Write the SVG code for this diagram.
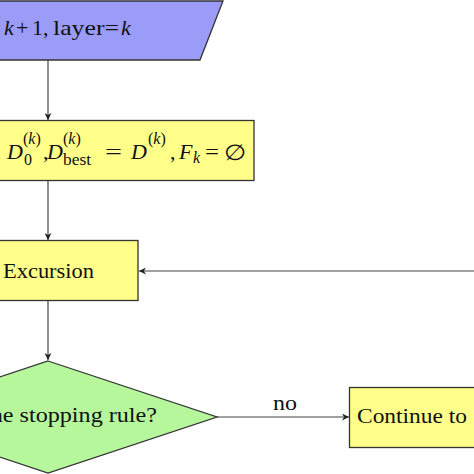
<svg xmlns="http://www.w3.org/2000/svg" width="474" height="474" viewBox="0 0 474 474">
<style>
.node{stroke:#333;stroke-width:1.3}
.blue{fill:#9a9cf8}
.yellow{fill:#ffff8a}
.green{fill:#b6f79c}
.t{font-family:"Liberation Serif","Times New Roman",serif;font-size:22px;fill:#111}
.i{font-style:italic}
.s{font-size:16px}
.edge{stroke:#444;stroke-width:1.2;fill:none;marker-end:url(#arr)}
</style>
<defs>
<marker id="arr" viewBox="0 0 10 10" refX="10" refY="5" markerWidth="7" markerHeight="7" markerUnits="userSpaceOnUse" orient="auto">
<path d="M0,0 L10,5 L0,10 L3,5 Z" fill="#222"/>
</marker>
</defs>
<rect width="474" height="474" fill="#fff"/>
<g id="connectors">
<line class="edge" x1="48" y1="60" x2="48" y2="120"/>
<line class="edge" x1="48" y1="181" x2="48" y2="240"/>
<line class="edge" x1="48" y1="300" x2="48" y2="360"/>
<line class="edge" x1="474" y1="271" x2="139" y2="271"/>
<line class="edge" x1="217" y1="417" x2="349" y2="417"/>
<text class="t" x="285" y="410" text-anchor="middle" textLength="24" lengthAdjust="spacingAndGlyphs">no</text>
</g>
<g id="start">
<polygon class="node blue" points="-20,1 223,1 200,60 -20,60"/>
<text class="t" y="35"><tspan class="i" x="4">k</tspan><tspan x="16">+</tspan><tspan x="32">1,</tspan><tspan x="53" textLength="66" lengthAdjust="spacingAndGlyphs">layer=</tspan><tspan class="i" x="121">k</tspan></text>
</g>
<g id="init">
<rect class="node yellow" x="-10" y="120.5" width="264" height="60"/>
<text class="t">
<tspan class="i" x="7" y="159">D</tspan>
<tspan class="s" x="23" y="144">(</tspan><tspan class="s i" y="144">k</tspan><tspan class="s" y="144">)</tspan>
<tspan class="s" x="24" y="165">0</tspan>
<tspan x="43" y="159">,</tspan>
<tspan class="i" x="47" y="159">D</tspan>
<tspan class="s" x="63" y="144">(</tspan><tspan class="s i" y="144">k</tspan><tspan class="s" y="144">)</tspan>
<tspan class="s" x="63" y="165" textLength="28" lengthAdjust="spacingAndGlyphs">best</tspan>
<tspan x="105" y="159" textLength="17" lengthAdjust="spacingAndGlyphs">=</tspan>
<tspan class="i" x="131" y="159">D</tspan>
<tspan class="s" x="148" y="144">(</tspan><tspan class="s i" y="144">k</tspan><tspan class="s" y="144">)</tspan>
<tspan x="170" y="159">,</tspan>
<tspan class="i" x="179" y="159">F</tspan>
<tspan class="s i" x="193" y="163">k</tspan>
<tspan x="205" y="159" textLength="14" lengthAdjust="spacingAndGlyphs">=</tspan>
<tspan x="224" y="160" textLength="22" lengthAdjust="spacingAndGlyphs">∅</tspan>
</text>
</g>
<g id="excursion">
<rect class="node yellow" x="-10" y="240.5" width="148" height="60"/>
<text class="t" x="3" y="278" textLength="91" lengthAdjust="spacingAndGlyphs">Excursion</text>
</g>
<g id="decision">
<polygon class="node green" points="48,361 217,417 48,473 -121,417"/>
<text class="t" x="157" y="422" text-anchor="end" textLength="173" lengthAdjust="spacingAndGlyphs">the stopping rule?</text>
</g>
<g id="continue">
<rect class="node yellow" x="349.5" y="387.5" width="140" height="60"/>
<text class="t" x="357" y="423" textLength="110" lengthAdjust="spacingAndGlyphs">Continue to</text>
</g>
</svg>
